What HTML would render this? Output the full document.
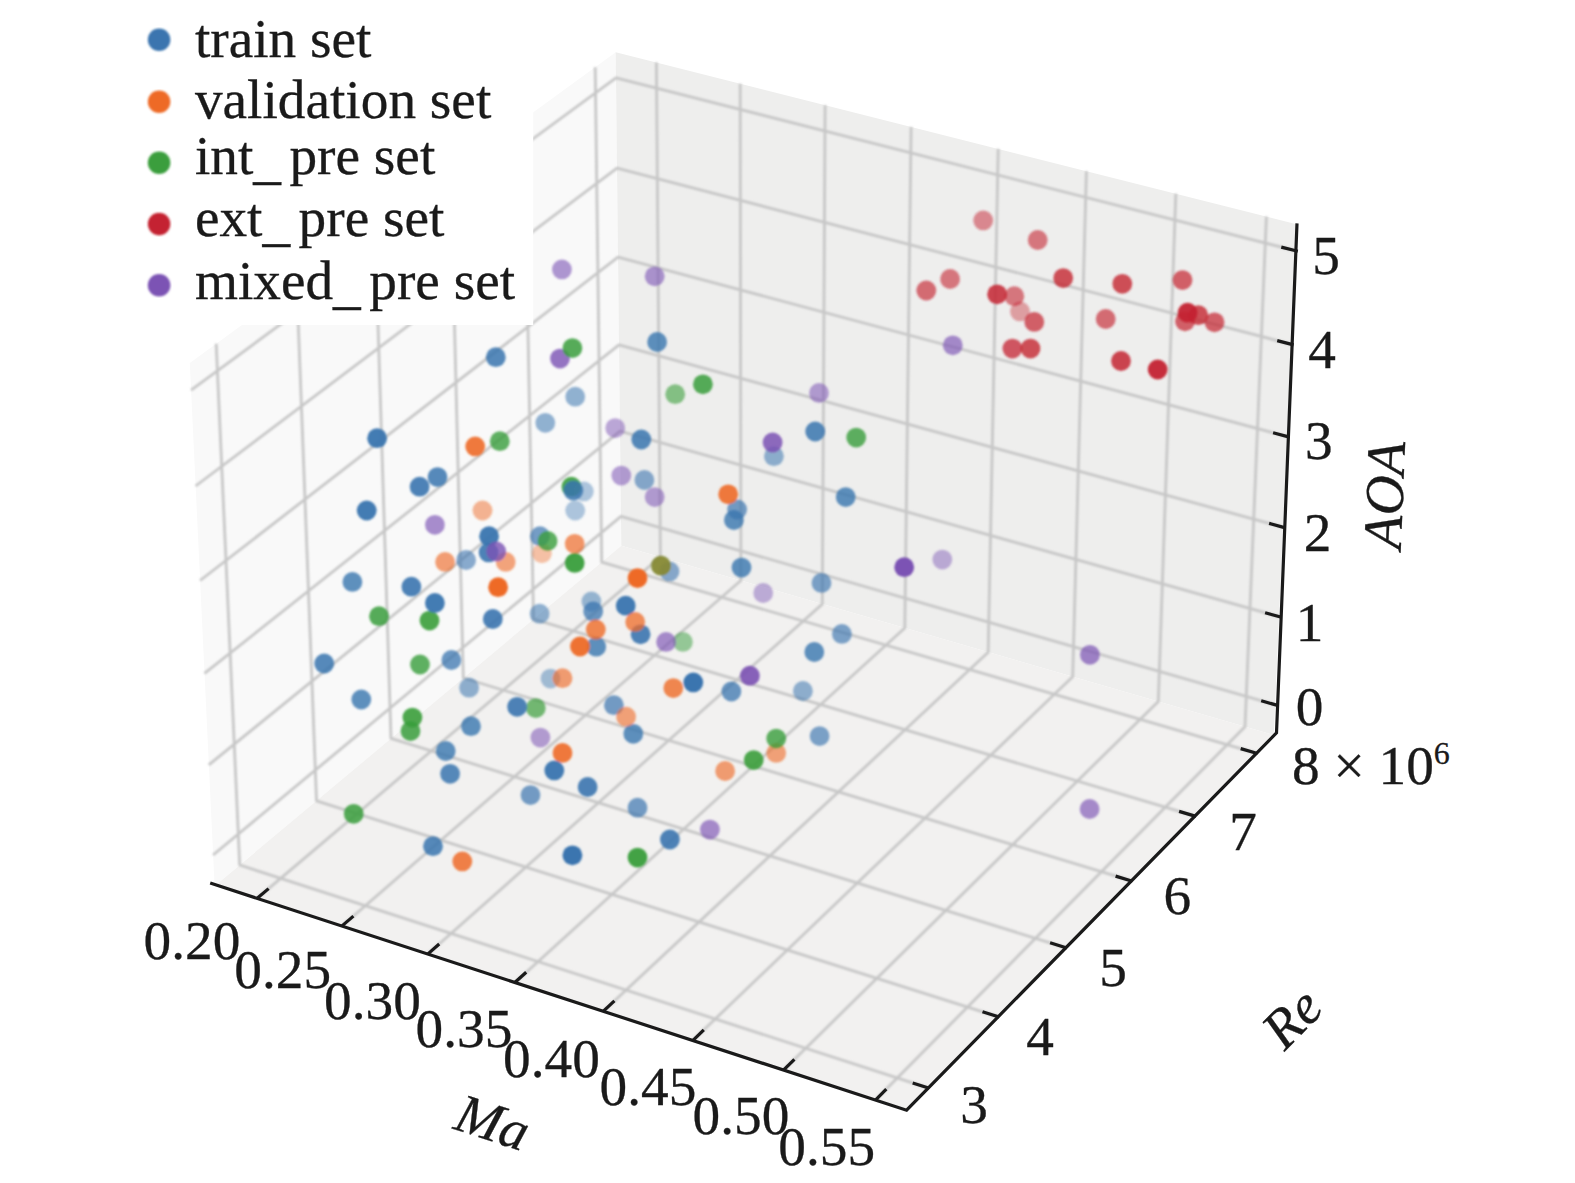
<!DOCTYPE html>
<html lang="en"><head><meta charset="utf-8"><title>3D scatter: Ma, Re, AOA</title>
<style>html,body{margin:0;padding:0;background:#fff;}svg{display:block;}</style></head>
<body>
<svg width="1575" height="1183" viewBox="0 0 1575 1183">
<defs><filter id="soft" x="-5%" y="-5%" width="110%" height="110%"><feGaussianBlur stdDeviation="0.8"/></filter><filter id="soft2" x="-5%" y="-5%" width="110%" height="110%"><feGaussianBlur stdDeviation="0.8"/></filter></defs>
<rect width="1575" height="1183" fill="#ffffff"/>
<polygon points="214.6,886.0 621.3,545.8 615.7,52.3 189.8,363.0" fill="#f9f9f9"/>
<polygon points="621.3,545.8 1273.8,735.0 1296.5,224.3 615.7,52.3" fill="#eeeeed"/>
<polygon points="216.8,884.2 907.0,1109.1 1273.8,735.0 621.3,545.8" fill="#f2f1f0"/>
<g fill="none" stroke="#c7c7c7" stroke-width="2.8" stroke-linejoin="round" filter="url(#soft)"><polyline points="257.9,897.6 660.4,557.1 656.4,62.6"/><polyline points="342.8,925.3 740.9,580.5 740.2,83.7"/><polyline points="428.7,953.3 822.3,604.1 825.1,105.2"/><polyline points="515.9,981.7 904.8,628.0 911.1,126.9"/><polyline points="604.2,1010.4 988.2,652.2 998.2,148.9"/><polyline points="693.7,1039.6 1072.7,676.7 1086.4,171.2"/><polyline points="784.4,1069.2 1158.3,701.5 1175.8,193.8"/><polyline points="876.4,1099.1 1245.0,726.7 1266.4,216.6"/><polyline points="927.9,1087.8 239.7,865.0 216.2,343.7"/><polyline points="997.7,1016.6 316.5,800.8 296.8,284.9"/><polyline points="1065.4,947.6 391.0,738.4 375.0,227.9"/><polyline points="1130.9,880.7 463.3,678.0 450.7,172.7"/><polyline points="1194.5,815.9 533.5,619.2 524.0,119.1"/><polyline points="1256.1,753.1 601.7,562.2 595.2,67.2"/><polyline points="213.1,855.0 621.0,516.4 1275.1,704.7"/><polyline points="208.8,764.9 620.0,431.2 1279.1,616.6"/><polyline points="204.5,673.4 619.0,344.8 1283.0,527.2"/><polyline points="200.1,580.5 618.0,257.1 1287.1,436.5"/><polyline points="195.6,486.0 617.0,168.1 1291.2,344.3"/><polyline points="191.1,390.1 616.0,77.8 1295.4,250.7"/></g>
<g filter="url(#soft2)"><circle cx="1020.0" cy="311.4" r="9.9" fill="#c42431" fill-opacity="0.40"/><circle cx="583.8" cy="491.4" r="9.9" fill="#3a75af" fill-opacity="0.40"/><circle cx="575.2" cy="510.5" r="9.9" fill="#3a75af" fill-opacity="0.40"/><circle cx="541.9" cy="553.3" r="9.9" fill="#ee6b28" fill-opacity="0.40"/><circle cx="763.2" cy="593.0" r="9.9" fill="#7b52b4" fill-opacity="0.45"/><circle cx="942.3" cy="559.6" r="9.9" fill="#7b52b4" fill-opacity="0.45"/><circle cx="550.5" cy="678.6" r="9.9" fill="#3a75af" fill-opacity="0.45"/><circle cx="615.2" cy="428.1" r="9.9" fill="#7b52b4" fill-opacity="0.50"/><circle cx="983.2" cy="220.4" r="9.9" fill="#c42431" fill-opacity="0.50"/><circle cx="482.5" cy="510.5" r="9.9" fill="#ee6b28" fill-opacity="0.50"/><circle cx="591.4" cy="601.5" r="9.9" fill="#3a75af" fill-opacity="0.50"/><circle cx="682.9" cy="641.9" r="9.9" fill="#3a9e3c" fill-opacity="0.50"/><circle cx="575.2" cy="396.7" r="9.9" fill="#3a75af" fill-opacity="0.55"/><circle cx="545.3" cy="422.8" r="9.9" fill="#3a75af" fill-opacity="0.55"/><circle cx="819.0" cy="392.9" r="9.9" fill="#7b52b4" fill-opacity="0.55"/><circle cx="539.6" cy="613.7" r="9.9" fill="#3a75af" fill-opacity="0.55"/><circle cx="773.9" cy="456.2" r="9.9" fill="#3a75af" fill-opacity="0.55"/><circle cx="621.3" cy="475.6" r="9.9" fill="#7b52b4" fill-opacity="0.55"/><circle cx="654.7" cy="497.1" r="9.9" fill="#7b52b4" fill-opacity="0.55"/><circle cx="469.1" cy="687.7" r="9.9" fill="#3a75af" fill-opacity="0.55"/><circle cx="540.4" cy="737.6" r="9.9" fill="#7b52b4" fill-opacity="0.55"/><circle cx="802.9" cy="691.0" r="9.9" fill="#3a75af" fill-opacity="0.55"/><circle cx="561.9" cy="269.4" r="9.9" fill="#7b52b4" fill-opacity="0.60"/><circle cx="654.7" cy="276.3" r="9.9" fill="#7b52b4" fill-opacity="0.60"/><circle cx="675.2" cy="394.2" r="9.9" fill="#3a9e3c" fill-opacity="0.60"/><circle cx="1037.7" cy="240.0" r="9.9" fill="#c42431" fill-opacity="0.60"/><circle cx="950.1" cy="279.0" r="9.9" fill="#c42431" fill-opacity="0.60"/><circle cx="1014.3" cy="296.2" r="9.9" fill="#c42431" fill-opacity="0.60"/><circle cx="505.7" cy="561.9" r="9.9" fill="#ee6b28" fill-opacity="0.60"/><circle cx="466.1" cy="560.0" r="9.9" fill="#3a75af" fill-opacity="0.60"/><circle cx="644.4" cy="480.0" r="9.9" fill="#3a75af" fill-opacity="0.60"/><circle cx="669.5" cy="571.4" r="9.9" fill="#3a75af" fill-opacity="0.60"/><circle cx="776.2" cy="752.9" r="9.9" fill="#ee6b28" fill-opacity="0.60"/><circle cx="926.3" cy="290.5" r="9.9" fill="#c42431" fill-opacity="0.65"/><circle cx="1105.7" cy="319.0" r="9.9" fill="#c42431" fill-opacity="0.65"/><circle cx="952.8" cy="345.3" r="9.9" fill="#7b52b4" fill-opacity="0.65"/><circle cx="434.9" cy="524.8" r="9.9" fill="#7b52b4" fill-opacity="0.65"/><circle cx="445.1" cy="561.9" r="9.9" fill="#ee6b28" fill-opacity="0.65"/><circle cx="821.5" cy="582.9" r="9.9" fill="#3a75af" fill-opacity="0.65"/><circle cx="666.1" cy="641.9" r="9.9" fill="#7b52b4" fill-opacity="0.65"/><circle cx="841.9" cy="633.9" r="9.9" fill="#3a75af" fill-opacity="0.65"/><circle cx="1089.6" cy="809.0" r="9.9" fill="#7b52b4" fill-opacity="0.65"/><circle cx="562.5" cy="678.2" r="9.9" fill="#ee6b28" fill-opacity="0.65"/><circle cx="725.1" cy="771.0" r="9.9" fill="#ee6b28" fill-opacity="0.65"/><circle cx="819.6" cy="736.1" r="9.9" fill="#3a75af" fill-opacity="0.65"/><circle cx="709.9" cy="829.6" r="9.9" fill="#7b52b4" fill-opacity="0.65"/><circle cx="1034.3" cy="321.9" r="9.9" fill="#c42431" fill-opacity="0.70"/><circle cx="1182.5" cy="280.1" r="9.9" fill="#c42431" fill-opacity="0.70"/><circle cx="1185.0" cy="321.3" r="9.9" fill="#c42431" fill-opacity="0.70"/><circle cx="1214.5" cy="322.3" r="9.9" fill="#c42431" fill-opacity="0.70"/><circle cx="540.0" cy="536.2" r="9.9" fill="#3a75af" fill-opacity="0.70"/><circle cx="574.7" cy="543.8" r="9.9" fill="#ee6b28" fill-opacity="0.70"/><circle cx="737.1" cy="509.5" r="9.9" fill="#3a75af" fill-opacity="0.70"/><circle cx="1089.9" cy="654.8" r="9.9" fill="#7b52b4" fill-opacity="0.70"/><circle cx="535.8" cy="708.1" r="9.9" fill="#3a9e3c" fill-opacity="0.70"/><circle cx="530.5" cy="795.1" r="9.9" fill="#3a75af" fill-opacity="0.70"/><circle cx="613.9" cy="705.2" r="9.9" fill="#3a75af" fill-opacity="0.70"/><circle cx="637.5" cy="807.7" r="9.9" fill="#3a75af" fill-opacity="0.70"/><circle cx="1012.4" cy="348.6" r="9.9" fill="#c42431" fill-opacity="0.75"/><circle cx="593.2" cy="611.4" r="9.9" fill="#3a75af" fill-opacity="0.75"/><circle cx="451.4" cy="660.0" r="9.9" fill="#3a75af" fill-opacity="0.75"/><circle cx="731.4" cy="691.5" r="9.9" fill="#3a75af" fill-opacity="0.75"/><circle cx="560.0" cy="358.6" r="9.9" fill="#7b52b4" fill-opacity="0.80"/><circle cx="499.8" cy="441.2" r="9.9" fill="#3a9e3c" fill-opacity="0.80"/><circle cx="657.1" cy="342.0" r="9.9" fill="#3a75af" fill-opacity="0.80"/><circle cx="856.2" cy="437.6" r="9.9" fill="#3a9e3c" fill-opacity="0.80"/><circle cx="1063.2" cy="278.1" r="9.9" fill="#c42431" fill-opacity="0.80"/><circle cx="1122.3" cy="283.8" r="9.9" fill="#c42431" fill-opacity="0.80"/><circle cx="1030.5" cy="348.6" r="9.9" fill="#c42431" fill-opacity="0.80"/><circle cx="1198.3" cy="315.2" r="9.9" fill="#c42431" fill-opacity="0.80"/><circle cx="547.6" cy="541.0" r="9.9" fill="#3a9e3c" fill-opacity="0.80"/><circle cx="352.4" cy="581.9" r="9.9" fill="#3a75af" fill-opacity="0.80"/><circle cx="596.2" cy="646.7" r="9.9" fill="#3a75af" fill-opacity="0.80"/><circle cx="420.0" cy="664.5" r="9.9" fill="#3a9e3c" fill-opacity="0.80"/><circle cx="733.9" cy="520.0" r="9.9" fill="#3a75af" fill-opacity="0.80"/><circle cx="845.7" cy="497.1" r="9.9" fill="#3a75af" fill-opacity="0.80"/><circle cx="741.5" cy="567.6" r="9.9" fill="#3a75af" fill-opacity="0.80"/><circle cx="814.3" cy="652.0" r="9.9" fill="#3a75af" fill-opacity="0.80"/><circle cx="361.3" cy="699.5" r="9.9" fill="#3a75af" fill-opacity="0.80"/><circle cx="471.0" cy="726.2" r="9.9" fill="#3a75af" fill-opacity="0.80"/><circle cx="445.7" cy="751.0" r="9.9" fill="#3a75af" fill-opacity="0.80"/><circle cx="673.3" cy="688.1" r="9.9" fill="#ee6b28" fill-opacity="0.80"/><circle cx="633.3" cy="733.8" r="9.9" fill="#3a75af" fill-opacity="0.80"/><circle cx="776.2" cy="738.6" r="9.9" fill="#3a9e3c" fill-opacity="0.80"/><circle cx="495.8" cy="357.2" r="9.9" fill="#3a75af" fill-opacity="0.85"/><circle cx="572.4" cy="348.1" r="9.9" fill="#3a9e3c" fill-opacity="0.85"/><circle cx="702.9" cy="384.3" r="9.9" fill="#3a9e3c" fill-opacity="0.85"/><circle cx="641.3" cy="439.5" r="9.9" fill="#3a75af" fill-opacity="0.85"/><circle cx="815.2" cy="431.5" r="9.9" fill="#3a75af" fill-opacity="0.85"/><circle cx="772.6" cy="442.5" r="9.9" fill="#7b52b4" fill-opacity="0.85"/><circle cx="997.1" cy="294.3" r="9.9" fill="#c42431" fill-opacity="0.85"/><circle cx="1121.0" cy="361.0" r="9.9" fill="#c42431" fill-opacity="0.85"/><circle cx="437.5" cy="477.1" r="9.9" fill="#3a75af" fill-opacity="0.85"/><circle cx="379.0" cy="616.2" r="9.9" fill="#3a9e3c" fill-opacity="0.85"/><circle cx="324.2" cy="663.5" r="9.9" fill="#3a75af" fill-opacity="0.85"/><circle cx="410.5" cy="731.0" r="9.9" fill="#3a9e3c" fill-opacity="0.85"/><circle cx="450.1" cy="773.8" r="9.9" fill="#3a75af" fill-opacity="0.85"/><circle cx="353.7" cy="813.8" r="9.9" fill="#3a9e3c" fill-opacity="0.85"/><circle cx="433.0" cy="846.2" r="9.9" fill="#3a75af" fill-opacity="0.85"/><circle cx="462.3" cy="861.4" r="9.9" fill="#ee6b28" fill-opacity="0.85"/><circle cx="475.2" cy="446.4" r="9.9" fill="#ee6b28" fill-opacity="0.90"/><circle cx="419.6" cy="486.7" r="9.9" fill="#3a75af" fill-opacity="0.90"/><circle cx="488.6" cy="552.4" r="9.9" fill="#3a75af" fill-opacity="0.90"/><circle cx="571.4" cy="486.7" r="9.9" fill="#3a9e3c" fill-opacity="0.90"/><circle cx="411.4" cy="586.7" r="9.9" fill="#3a75af" fill-opacity="0.90"/><circle cx="429.5" cy="620.6" r="9.9" fill="#3a9e3c" fill-opacity="0.90"/><circle cx="492.8" cy="619.0" r="9.9" fill="#3a75af" fill-opacity="0.90"/><circle cx="728.2" cy="494.3" r="9.9" fill="#ee6b28" fill-opacity="0.90"/><circle cx="661.0" cy="565.7" r="9.9" fill="#3a9e3c" fill-opacity="0.90"/><circle cx="640.6" cy="634.3" r="9.9" fill="#3a75af" fill-opacity="0.90"/><circle cx="412.4" cy="717.6" r="9.9" fill="#3a9e3c" fill-opacity="0.90"/><circle cx="517.1" cy="706.8" r="9.9" fill="#3a75af" fill-opacity="0.90"/><circle cx="562.5" cy="752.9" r="9.9" fill="#ee6b28" fill-opacity="0.90"/><circle cx="587.6" cy="787.0" r="9.9" fill="#3a75af" fill-opacity="0.90"/><circle cx="749.9" cy="675.7" r="9.9" fill="#7b52b4" fill-opacity="0.90"/><circle cx="753.7" cy="760.1" r="9.9" fill="#3a9e3c" fill-opacity="0.90"/><circle cx="669.9" cy="839.5" r="9.9" fill="#3a75af" fill-opacity="0.90"/><circle cx="377.1" cy="438.2" r="9.9" fill="#3a75af" fill-opacity="0.95"/><circle cx="1157.7" cy="369.5" r="9.9" fill="#c42431" fill-opacity="0.95"/><circle cx="1187.6" cy="312.7" r="9.9" fill="#c42431" fill-opacity="0.95"/><circle cx="366.7" cy="510.5" r="9.9" fill="#3a75af" fill-opacity="0.95"/><circle cx="489.1" cy="536.2" r="9.9" fill="#3a75af" fill-opacity="0.95"/><circle cx="574.7" cy="562.9" r="9.9" fill="#3a9e3c" fill-opacity="0.95"/><circle cx="434.9" cy="602.9" r="9.9" fill="#3a75af" fill-opacity="0.95"/><circle cx="580.0" cy="646.5" r="9.9" fill="#ee6b28" fill-opacity="0.95"/><circle cx="625.7" cy="605.7" r="9.9" fill="#3a75af" fill-opacity="0.95"/><circle cx="554.3" cy="770.4" r="9.9" fill="#3a75af" fill-opacity="0.95"/><circle cx="637.5" cy="857.6" r="9.9" fill="#3a9e3c" fill-opacity="0.95"/><circle cx="498.1" cy="587.2" r="9.9" fill="#ee6b28" fill-opacity="1.00"/><circle cx="637.5" cy="578.1" r="9.9" fill="#ee6b28" fill-opacity="1.00"/><circle cx="904.2" cy="567.2" r="9.9" fill="#7b52b4" fill-opacity="1.00"/><circle cx="572.4" cy="855.3" r="9.9" fill="#3a75af" fill-opacity="1.00"/><circle cx="693.3" cy="682.4" r="9.9" fill="#3a75af" fill-opacity="1.00"/><circle cx="573.3" cy="490.5" r="9.9" fill="#3a75af" fill-opacity="0.85"/><circle cx="595.8" cy="629.5" r="9.9" fill="#ee6b28" fill-opacity="0.80"/><circle cx="661.0" cy="565.7" r="9.9" fill="#ee6b28" fill-opacity="0.40"/><circle cx="635.2" cy="621.9" r="9.9" fill="#ee6b28" fill-opacity="0.75"/><circle cx="626.1" cy="716.7" r="9.9" fill="#ee6b28" fill-opacity="0.60"/><circle cx="496.2" cy="551.4" r="9.9" fill="#7b52b4" fill-opacity="0.80"/></g>
<g fill="none" stroke="#1a1a1a" stroke-width="3.2" stroke-linecap="butt" stroke-linejoin="miter">
<polyline points="210.2,883.1 906.6,1110.2 1276.5,732.9 1297.0,223.4"/>
</g>
<g stroke="#1a1a1a" stroke-width="3.2" stroke-linecap="butt"><line x1="257.2" y1="898.3" x2="268.6" y2="888.6"/><line x1="342.0" y1="925.9" x2="353.4" y2="916.1"/><line x1="428.0" y1="953.9" x2="439.2" y2="944.0"/><line x1="515.1" y1="982.3" x2="526.2" y2="972.2"/><line x1="603.4" y1="1011.1" x2="614.4" y2="1000.9"/><line x1="693.0" y1="1040.3" x2="703.8" y2="1029.9"/><line x1="783.7" y1="1069.9" x2="794.4" y2="1059.3"/><line x1="875.7" y1="1099.8" x2="886.3" y2="1089.2"/><line x1="929.3" y1="1088.3" x2="912.7" y2="1082.9"/><line x1="999.2" y1="1017.0" x2="982.5" y2="1011.7"/><line x1="1066.8" y1="948.0" x2="1050.1" y2="942.8"/><line x1="1132.4" y1="881.2" x2="1115.6" y2="876.1"/><line x1="1195.9" y1="816.4" x2="1179.1" y2="811.4"/><line x1="1257.5" y1="753.5" x2="1240.7" y2="748.6"/><line x1="1277.5" y1="705.4" x2="1261.2" y2="700.7"/><line x1="1281.5" y1="617.3" x2="1265.1" y2="612.7"/><line x1="1285.4" y1="527.9" x2="1269.1" y2="523.4"/><line x1="1289.5" y1="437.1" x2="1273.1" y2="432.7"/><line x1="1293.6" y1="344.9" x2="1277.2" y2="340.6"/><line x1="1297.8" y1="251.3" x2="1281.3" y2="247.1"/></g>
<rect x="120" y="0" width="413.2" height="325" fill="#ffffff"/>
<g font-family="'Liberation Serif', 'Times New Roman', serif" font-size="55.3" fill="#1a1a1a" stroke="#1a1a1a" stroke-width="0.3">
<circle cx="159.1" cy="39.8" r="11.3" fill="#3a75af" stroke="none" filter="url(#soft2)"/>
<text x="194.9" y="57.3">train set</text>
<circle cx="159.1" cy="101.8" r="11.3" fill="#ee6b28" stroke="none" filter="url(#soft2)"/>
<text x="194.9" y="117.9">validation set</text>
<circle cx="159.1" cy="162.8" r="11.3" fill="#3a9e3c" stroke="none" filter="url(#soft2)"/>
<text x="194.9" y="173.8">int<tspan dy="4">_</tspan><tspan dx="8.5" dy="-4">pre set</tspan></text>
<circle cx="159.1" cy="224.1" r="11.3" fill="#c42431" stroke="none" filter="url(#soft2)"/>
<text x="194.9" y="236.0">ext<tspan dy="4">_</tspan><tspan dx="8.5" dy="-4">pre set</tspan></text>
<circle cx="159.1" cy="285.3" r="11.3" fill="#7b52b4" stroke="none" filter="url(#soft2)"/>
<text x="194.9" y="298.9">mixed<tspan dy="4">_</tspan><tspan dx="8.5" dy="-4">pre set</tspan></text>
<text x="192" y="958.6" text-anchor="middle">0.20</text>
<text x="282.7" y="988" text-anchor="middle">0.25</text>
<text x="372.5" y="1018.7" text-anchor="middle">0.30</text>
<text x="464" y="1046.8" text-anchor="middle">0.35</text>
<text x="551.5" y="1076.6" text-anchor="middle">0.40</text>
<text x="648" y="1104.5" text-anchor="middle">0.45</text>
<text x="741" y="1133.6" text-anchor="middle">0.50</text>
<text x="826.7" y="1165.3" text-anchor="middle">0.55</text>
<text x="974" y="1122.8" text-anchor="middle">3</text>
<text x="1040.2" y="1054.5" text-anchor="middle">4</text>
<text x="1113" y="985.6" text-anchor="middle">5</text>
<text x="1177.3" y="914.2" text-anchor="middle">6</text>
<text x="1243.1" y="850.4" text-anchor="middle">7</text>
<text x="1292" y="784">8 × 10<tspan font-size="32" dy="-20">6</tspan></text>
<text x="1309.5" y="725.4" text-anchor="middle">0</text>
<text x="1309.5" y="641.2" text-anchor="middle">1</text>
<text x="1317.7" y="550.8" text-anchor="middle">2</text>
<text x="1318.8" y="459.4" text-anchor="middle">3</text>
<text x="1322" y="368" text-anchor="middle">4</text>
<text x="1326" y="274" text-anchor="middle">5</text>
<text font-style="italic" text-anchor="middle" transform="translate(487,1140) rotate(18)">Ma</text>
<text font-style="italic" text-anchor="middle" transform="translate(1305,1031) rotate(-45.5)">Re</text>
<text font-style="italic" text-anchor="middle" transform="translate(1403,496) rotate(-87.6)">AOA</text>
</g>
</svg>
</body></html>
